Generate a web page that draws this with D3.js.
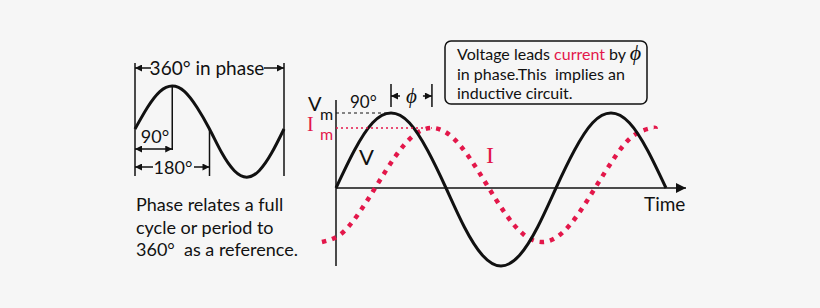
<!doctype html>
<html>
<head>
  <meta charset="utf-8">
  <title>Phase</title>
  <style>
  body{
    margin: 0;
    background: #f6f6f6;
  }
  svg text{
    font-family: Lato, "Open Sans", sans-serif;
    fill: #111;
  }
  .serif{
    font-family: "Liberation Serif", "DejaVu Serif", serif !important;
  }
  </style>
</head>
<body>
  <svg></svg>

  <script src="https://d3js.org/d3.v7.min.js"></script>
  <script>
  var width = 820;
  var height = 308;
  var red = '#e3174a';

  // small reference wave on the left (phase in degrees, value in units of its peak)
  var smallDeg = [0, 30, 60, 90, 120, 150, 180, 210, 240, 270, 300, 330, 360];
  var smallWave = [0, 0.5, 0.87, 1, 0.87, 0.5, 0, -0.56, -0.97, -1.12, -0.97, -0.56, 0];

  // main plot: voltage and current against phase of the voltage
  var voltageDeg = [0, 30, 60, 90, 120, 150, 180, 210, 240, 270, 300, 330, 360, 390, 420, 450, 480, 510, 540];
  var voltage = [0, 0.5, 0.87, 1, 0.87, 0.5, 0, -0.52, -0.9, -1.04, -0.9, -0.52, 0, 0.5, 0.87, 1, 0.87, 0.5, 0];
  var currentDeg = [-23, 7, 37, 67, 97, 127, 157, 187, 217, 247, 277, 307, 337, 367, 397, 427, 457, 487, 517, 523];
  var current = [-0.72, -0.62, -0.34, 0.04, 0.42, 0.70, 0.80, 0.70, 0.42, 0.04, -0.34, -0.62, -0.72, -0.62, -0.34, 0.04, 0.42, 0.70, 0.80, 0.79];
  var vPeakDeg = 90, iPeakDeg = 157, vPeak = 1, iPeak = 0.8;

  var boxLines = ['Voltage leads ', 'current', ' by ', 'in phase.This  implies an', 'inductive circuit.'];
  var noteLines = ['Phase relates a full', 'cycle or period to', '360°  as a reference.'];

  var svg = d3.select('svg')
    .attr('width', width)
    .attr('height', height);

  svg.append('rect').attr('width', width).attr('height', height).attr('fill', '#f6f6f6');

  var defs = svg.append('defs');
  defs.append('marker')
    .attr('id', 'arrow')
    .attr('viewBox', '0 0 10 10')
    .attr('refX', 10).attr('refY', 5)
    .attr('markerUnits', 'userSpaceOnUse')
    .attr('markerWidth', 8).attr('markerHeight', 7)
    .attr('orient', 'auto-start-reverse')
    .append('path').attr('d', 'M0,0L10,5L0,10z').attr('fill', '#111');
  defs.append('marker')
    .attr('id', 'bigarrow')
    .attr('viewBox', '0 0 10 10')
    .attr('refX', 10).attr('refY', 5)
    .attr('markerUnits', 'userSpaceOnUse')
    .attr('markerWidth', 14).attr('markerHeight', 10)
    .attr('orient', 'auto')
    .append('path').attr('d', 'M0,0L10,5L0,10z').attr('fill', '#111');

  function line(g, x1, y1, x2, y2, w){
    return g.append('line')
      .attr('x1', x1).attr('y1', y1).attr('x2', x2).attr('y2', y2)
      .attr('stroke', '#111').attr('stroke-width', w || 1.5);
  }
  function label(g, x, y, t, size, anchor){
    return g.append('text')
      .attr('x', x).attr('y', y)
      .attr('font-size', size)
      .attr('text-anchor', anchor || 'start')
      .text(t);
  }

  // ---- left reference wave ----
  var left = svg.append('g');
  var xs = d3.scaleLinear().domain([0, 360]).range([135, 284]);
  var ys = d3.scaleLinear().domain([0, 1]).range([129, 86]);

  left.append('path')
    .datum(d3.zip(smallDeg, smallWave))
    .attr('fill', 'none')
    .attr('stroke', '#111')
    .attr('stroke-width', 3)
    .attr('d', d3.line().x(function(d){ return xs(d[0]) }).y(function(d){ return ys(d[1]) }).curve(d3.curveNatural));

  line(left, xs(0), 63, xs(0), 176);
  line(left, xs(360), 63, xs(360), 176);
  line(left, xs(90), ys(1), xs(90), 150);
  line(left, xs(180), ys(0), xs(180), 176);

  label(left, 207, 75, '360° in phase', 19, 'middle');
  line(left, 151, 68, xs(0), 68).attr('marker-end', 'url(#arrow)');
  line(left, 264, 68, xs(360), 68).attr('marker-end', 'url(#arrow)');

  label(left, 155, 143, '90°', 18, 'middle');
  line(left, xs(0), 149, xs(90), 149)
    .attr('marker-start', 'url(#arrow)').attr('marker-end', 'url(#arrow)');

  label(left, 173, 174, '180°', 18, 'middle');
  line(left, 153, 167, xs(0), 167).attr('marker-end', 'url(#arrow)');
  line(left, 194, 167, xs(180), 167).attr('marker-end', 'url(#arrow)');

  var note = left.append('text').attr('font-size', 18).style('white-space', 'pre');
  note.selectAll('tspan').data(noteLines).enter().append('tspan')
    .attr('x', 136)
    .attr('y', function(d, i){ return 211 + i * 22.5 })
    .text(function(d){ return d });

  // ---- main plot ----
  var main = svg.append('g');
  var x = d3.scaleLinear().domain([0, 540]).range([336, 666]);
  var y = d3.scaleLinear().domain([0, 1]).range([188, 113]);

  line(main, x(0), 100, x(0), 266);
  line(main, x(0), y(0), 686, y(0)).attr('marker-end', 'url(#bigarrow)');

  main.append('path')
    .datum(d3.zip(currentDeg, current))
    .attr('fill', 'none')
    .attr('stroke', red)
    .attr('stroke-width', 4.5)
    .attr('stroke-dasharray', '4.5,6')
    .attr('d', d3.line().x(function(d){ return x(d[0]) }).y(function(d){ return y(d[1]) }).curve(d3.curveNatural));

  main.append('path')
    .datum(d3.zip(voltageDeg, voltage))
    .attr('fill', 'none')
    .attr('stroke', '#111')
    .attr('stroke-width', 3)
    .attr('d', d3.line().x(function(d){ return x(d[0]) }).y(function(d){ return y(d[1]) }).curve(d3.curveNatural));

  // peak reference lines
  line(main, x(0), y(vPeak), x(vPeakDeg), y(vPeak), 1.2).attr('stroke-dasharray', '3,3');
  line(main, x(0), y(iPeak), x(iPeakDeg), y(iPeak), 1.5).attr('stroke', red).attr('stroke-dasharray', '2,3');

  // phase marker
  line(main, x(vPeakDeg), 84, x(vPeakDeg), 107);
  line(main, x(iPeakDeg), 84, x(iPeakDeg), 107);
  line(main, x(vPeakDeg) + 9, 96, x(vPeakDeg), 96).attr('marker-end', 'url(#arrow)');
  line(main, x(iPeakDeg) - 9, 96, x(iPeakDeg), 96).attr('marker-end', 'url(#arrow)');
  label(main, (x(vPeakDeg) + x(iPeakDeg)) / 2, 103, 'ϕ', 21, 'middle')
    .attr('class', 'serif').attr('font-style', 'italic');

  label(main, 350, 108, '90°', 17);
  label(main, 308, 111, 'V', 20);
  label(main, 320, 120, 'm', 16);
  label(main, 307, 131, 'I', 20).attr('class', 'serif').style('fill', red);
  label(main, 320, 140, 'm', 16).style('fill', red);

  label(main, 359, 165, 'V', 22);
  label(main, 486, 163, 'I', 24).attr('class', 'serif').style('fill', red);
  label(main, 644, 211, 'Time', 19);

  // ---- note box ----
  var box = svg.append('g');
  box.append('rect')
    .attr('x', 445).attr('y', 41).attr('width', 202).attr('height', 63).attr('rx', 6)
    .attr('fill', 'none').attr('stroke', '#111').attr('stroke-width', 1.5);
  var t1 = box.append('text').attr('x', 457).attr('y', 60).attr('font-size', 16).style('white-space', 'pre');
  t1.append('tspan').text(boxLines[0]);
  t1.append('tspan').style('fill', red).text(boxLines[1]);
  t1.append('tspan').text(boxLines[2]);
  t1.append('tspan').attr('class', 'serif').attr('font-style', 'italic').attr('font-size', 22).text('ϕ');
  label(box, 457, 80, boxLines[3], 16).style('white-space', 'pre');
  label(box, 457, 99, boxLines[4], 16);
  </script>
</body>
</html>
